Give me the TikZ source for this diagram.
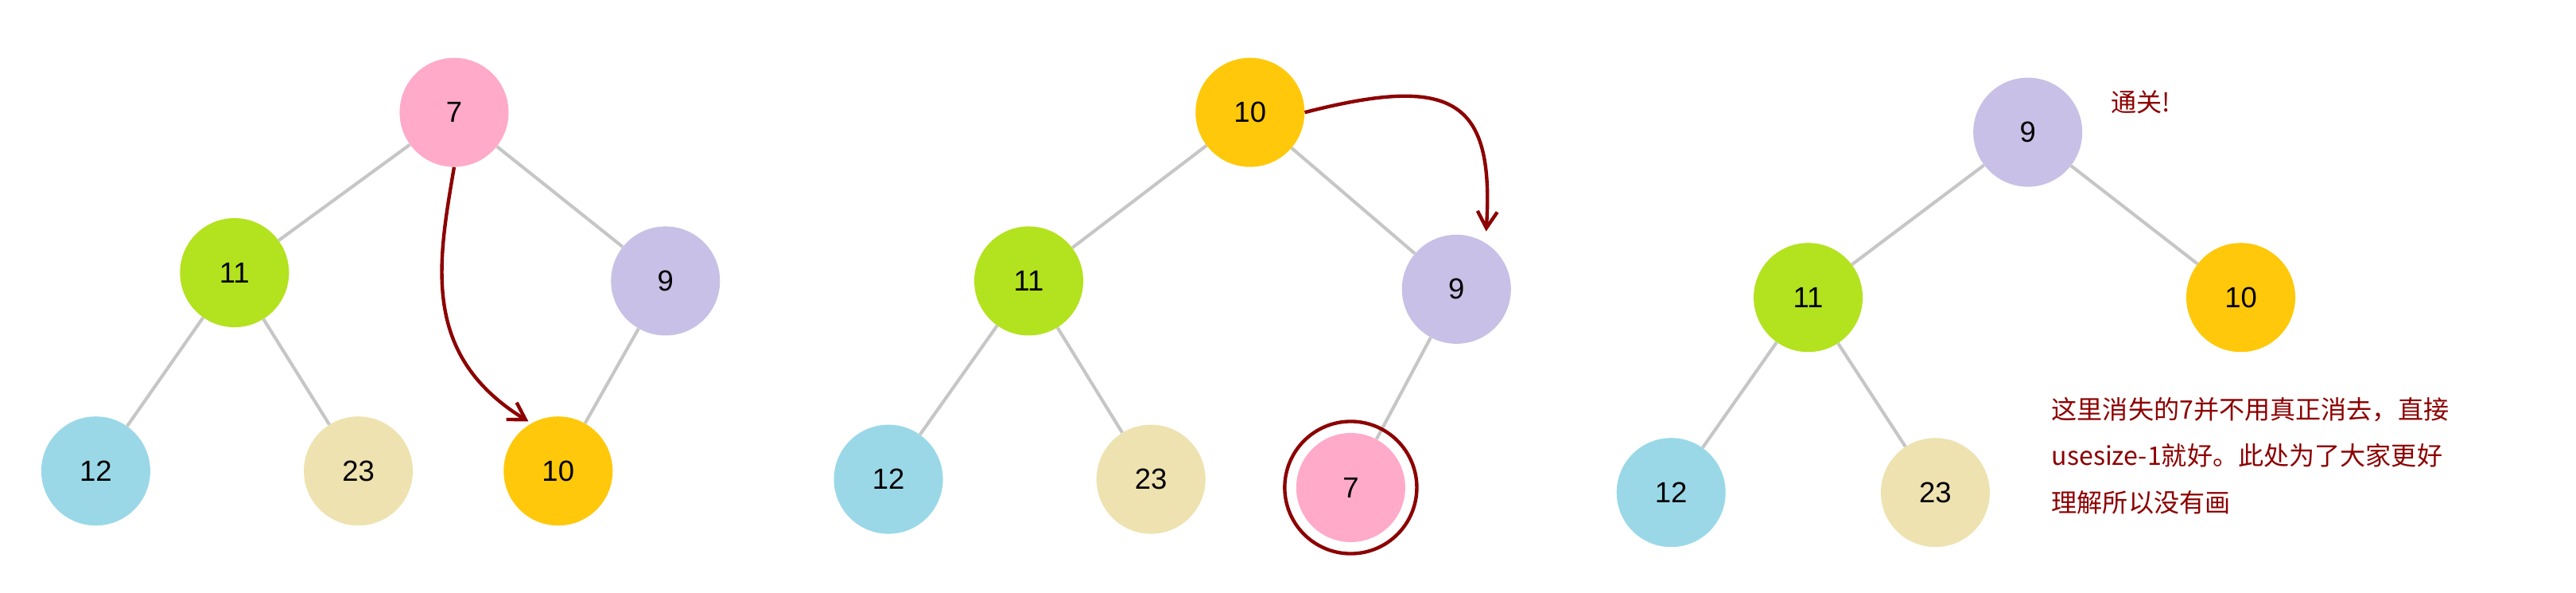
\documentclass[tikz,border=0pt]{standalone}
\usepackage{fontspec}
\setmainfont{Liberation Sans}
\newfontfamily\cjk{Noto Sans CJK SC}
\usetikzlibrary{arrows.meta}
\begin{document}
\begin{tikzpicture}[x=0.5mm,y=-0.5mm,
  nd/.style={circle,minimum size=33mm,inner sep=0pt,font=\fontsize{25}{29}\selectfont},
  ed/.style={draw=gray!45,line width=2.8pt},
  ar/.style={draw=red!55!black,line width=3pt,-{Straight Barb[length=5mm,width=6mm]}}]
\useasboundingbox (0,0) rectangle (1560,358.4);
\definecolor{cpk}{HTML}{FFAAC8}\definecolor{cgr}{HTML}{B3E21E}
\definecolor{clv}{HTML}{C8C0E6}\definecolor{cbl}{HTML}{9AD8E8}
\definecolor{cbg}{HTML}{EEE2B0}\definecolor{cog}{HTML}{FFC80A}
\tikzset{pk/.style={nd,fill=cpk},gr/.style={nd,fill=cgr},lv/.style={nd,fill=clv},
 bl/.style={nd,fill=cbl},bg/.style={nd,fill=cbg},og/.style={nd,fill=cog}}
% tree 1
\node[pk] (a7) at (275,68) {7};
\node[gr] (a11) at (142,165) {11};
\node[lv] (a9) at (403,170) {9};
\node[bl] (a12) at (58,285) {12};
\node[bg] (a23) at (217,285) {23};
\node[og] (a10) at (338,285) {10};
\draw[ed] (a7)--(a11) (a7)--(a9) (a11)--(a12) (a11)--(a23) (a9)--(a10);
\draw[ar] (a7.south) .. controls (265,160) and (255,215) .. (320,255);
% tree 2
\node[og] (b10) at (757,68) {10};
\node[gr] (b11) at (623,170) {11};
\node[lv] (b9) at (882,175) {9};
\node[bl] (b12) at (538,290) {12};
\node[bg] (b23) at (697,290) {23};
\node[pk] (b7) at (818,295) {7};
\draw[ed] (b10)--(b11) (b10)--(b9) (b11)--(b12) (b11)--(b23) (b9)--(b7);
\draw[red!55!black,line width=3pt] (b7) circle (40);
\draw[ar] (b10.east) .. controls (880,45) and (905,60) .. (900,140);
% tree 3
\node[lv] (c9) at (1228,80) {9};
\node[gr] (c11) at (1095,180) {11};
\node[og] (c10) at (1357,180) {10};
\node[bl] (c12) at (1012,298) {12};
\node[bg] (c23) at (1172,298) {23};
\draw[ed] (c9)--(c11) (c9)--(c10) (c11)--(c12) (c11)--(c23);
\node[anchor=west,text=red!55!black,font=\cjk\fontsize{22}{26}\selectfont] (t1) at (1276,62) {通关!};
\node[anchor=north west,text=red!55!black,font=\cjk\fontsize{22}{40}\selectfont,align=left] (t2) at (1240,238) {这里消失的7并不用真正消去，直接\\usesize-1就好。此处为了大家更好\\理解所以没有画};
\end{tikzpicture}
\end{document}
